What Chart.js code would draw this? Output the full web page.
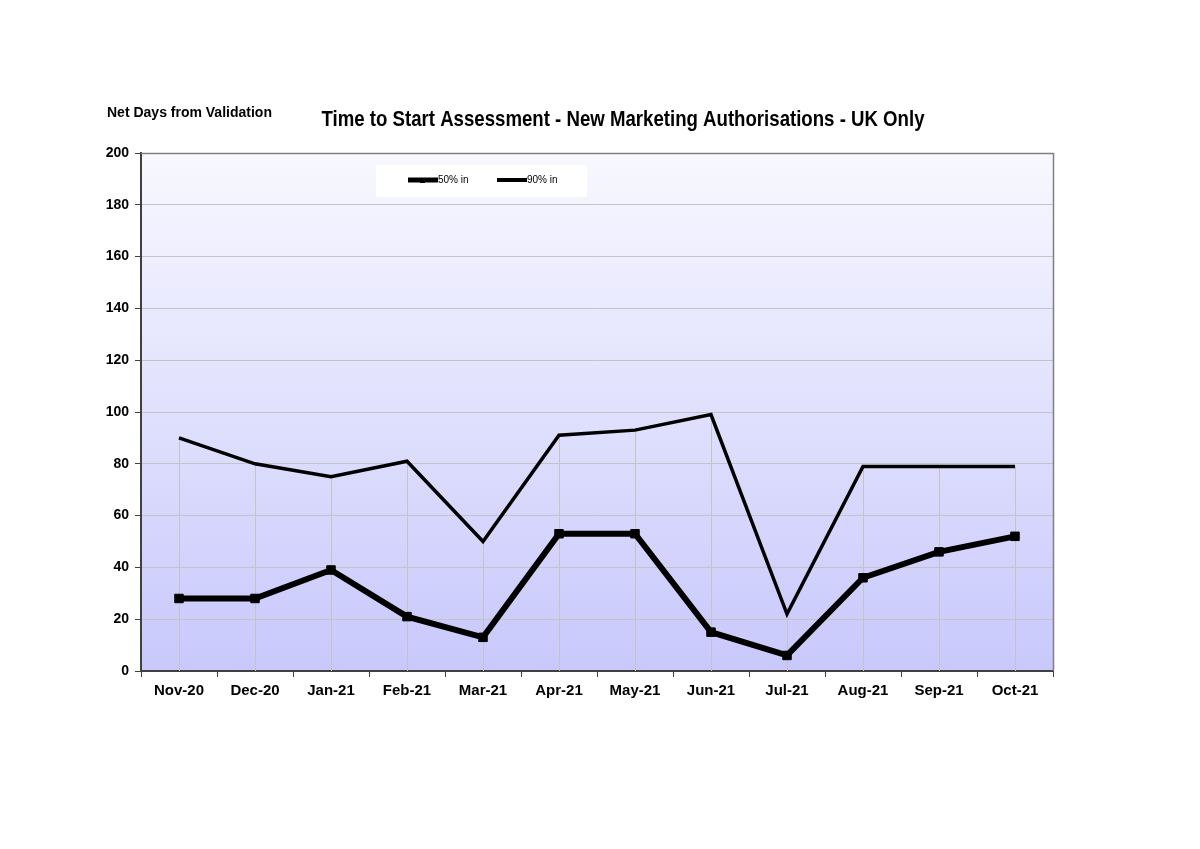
<!DOCTYPE html>
<html>
<head>
<meta charset="utf-8">
<script src="https://cdn.jsdelivr.net/npm/chart.js@4"></script>
<style>
  html, body { margin: 0; padding: 0; background: #fff; }
  #chart { display: block; }
</style>
</head>
<body>
<canvas id="chart" width="1200" height="849"></canvas>
<script>
// data
var months = ["Nov-20", "Dec-20", "Jan-21", "Feb-21", "Mar-21", "Apr-21", "May-21", "Jun-21", "Jul-21", "Aug-21", "Sep-21", "Oct-21"];
var pct50 = [28, 28, 39, 21, 13, 53, 53, 15, 6, 36, 46, 52];
var pct90 = [90, 80, 75, 81, 50, 91, 93, 99, 22, 79, 79, 79];
var seriesNames = ["50% in", "90% in"];

var chartTitle = "Time to Start Assessment - New Marketing Authorisations - UK Only";
var yTitle = "Net Days from Validation";

var sans = '"Liberation Sans", Arial, sans-serif';

// gradient fill, frame, drop lines, titles and legend box
var decorPlugin = {
  id: 'decor',
  beforeDraw: function (chart) {
    var c = chart.ctx, a = chart.chartArea;
    var g = c.createLinearGradient(0, a.top, 0, a.bottom);
    g.addColorStop(0, '#f8f8ff');
    g.addColorStop(1, '#c8c8fc');
    c.save();
    c.fillStyle = g;
    c.fillRect(a.left, a.top, a.right - a.left, a.bottom - a.top);
    c.restore();
  },
  beforeDatasetsDraw: function (chart) {
    var c = chart.ctx, a = chart.chartArea;
    var meta = chart.getDatasetMeta(1);
    c.save();
    c.strokeStyle = '#c4c4c4';
    c.lineWidth = 1;
    meta.data.forEach(function (p) {
      var x = Math.round(p.x) + 0.5;
      c.beginPath();
      c.moveTo(x, p.y);
      c.lineTo(x, a.bottom);
      c.stroke();
    });
    // top and right frame
    c.strokeStyle = '#808080';
    c.lineWidth = 1.5;
    c.beginPath();
    c.moveTo(a.left, a.top + 0.5);
    c.lineTo(a.right + 0.5, a.top + 0.5);
    c.lineTo(a.right + 0.5, a.bottom);
    c.stroke();
    c.restore();
  },
  afterDraw: function (chart) {
    var c = chart.ctx;
    c.save();
    c.fillStyle = '#000';
    c.textBaseline = 'middle';
    // title squeezed to the narrow width of the original
    c.font = 'bold 22px ' + sans;
    c.textAlign = 'center';
    var w = c.measureText(chartTitle).width;
    c.translate(623, 120);
    c.scale(603 / w, 1);
    c.fillText(chartTitle, 0, 0);
    c.setTransform(1, 0, 0, 1, 0, 0);

    c.font = 'bold 14px ' + sans;
    c.textAlign = 'left';
    c.fillText(yTitle, 107, 113);

    // legend box
    c.fillStyle = '#ffffff';
    c.fillRect(376, 165, 211, 32);
    var items = [{x: 408, w: 5}, {x: 497, w: 4}];
    c.font = '10px ' + sans;
    items.forEach(function (it, i) {
      c.strokeStyle = '#000';
      c.lineWidth = it.w;
      c.beginPath();
      c.moveTo(it.x, 180);
      c.lineTo(it.x + 30, 180);
      c.stroke();
      if (i === 0) {
        c.fillStyle = '#000';
        c.fillRect(it.x + 12, 178, 5, 5);
      }
      c.fillStyle = '#000';
      c.fillText(seriesNames[i], it.x + 30, 180);
    });
    c.restore();
  }
};

var ctx = document.getElementById('chart').getContext('2d');
var chart = new Chart(ctx, {
  type: 'line',
  data: {
    labels: months,
    datasets: [{
      label: seriesNames[0],
      data: pct50,
      borderColor: '#000',
      backgroundColor: '#000',
      borderWidth: 6,
      pointStyle: 'rect',
      pointRadius: 6,
      pointBorderWidth: 1,
      tension: 0
    }, {
      label: seriesNames[1],
      data: pct90,
      borderColor: '#000',
      backgroundColor: '#000',
      borderWidth: 3.5,
      pointRadius: 0,
      tension: 0
    }]
  },
  options: {
    responsive: false,
    animation: false,
    devicePixelRatio: 1,
    layout: { padding: { left: 0, top: 153, right: 147, bottom: 138 } },
    plugins: {
      legend: { display: false },
      title: { display: false },
      tooltip: { enabled: false }
    },
    scales: {
      x: {
        offset: true,
        afterFit: function (s) { s.height = 40; },
        grid: {
          offset: true,
          drawOnChartArea: false,
          drawTicks: true,
          tickLength: 6,
          color: '#404040'
        },
        border: { color: '#404040', width: 2 },
        ticks: {
          color: '#000',
          padding: 5,
          font: { family: sans, size: 15, weight: 'bold' },
          maxRotation: 0,
          autoSkip: false
        }
      },
      y: {
        min: 0,
        max: 200,
        afterFit: function (s) { s.width = 141; },
        grid: {
          color: '#c4c4c4',
          tickColor: '#404040',
          tickLength: 6
        },
        border: { color: '#404040', width: 2 },
        ticks: {
          stepSize: 20,
          color: '#000',
          padding: 6,
          font: { family: sans, size: 14, weight: 'bold' }
        }
      }
    }
  },
  plugins: [decorPlugin]
});
</script>
</body>
</html>
